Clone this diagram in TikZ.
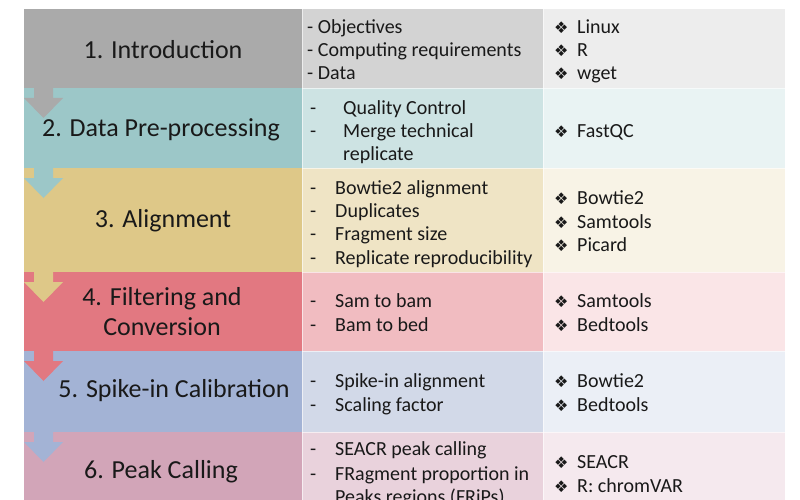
\documentclass[tikz,border=0pt]{standalone}
\usepackage{fontspec}
\setmainfont{Carlito}
\newfontfamily\symfont{DejaVu Sans}
\definecolor{ra}{RGB}{170,170,170}\definecolor{rb}{RGB}{211,211,211}\definecolor{rc}{RGB}{237,237,237}
\definecolor{sa}{RGB}{156,199,200}\definecolor{sb}{RGB}{205,227,227}\definecolor{sc}{RGB}{233,243,243}
\definecolor{ta}{RGB}{222,200,136}\definecolor{tb}{RGB}{239,228,197}\definecolor{tc}{RGB}{248,243,230}
\definecolor{ua}{RGB}{226,120,129}\definecolor{ub}{RGB}{241,188,193}\definecolor{uc}{RGB}{250,229,231}
\definecolor{va}{RGB}{163,179,213}\definecolor{vb}{RGB}{210,217,232}\definecolor{vc}{RGB}{235,239,246}
\definecolor{wa}{RGB}{210,165,184}\definecolor{wb}{RGB}{233,210,220}\definecolor{wc}{RGB}{245,233,238}
\newcommand{\tbul}{\makebox[23pt][l]{\symfont\fontsize{16}{16}\selectfont ❖}}
\begin{document}
\begin{tikzpicture}[x=1pt,y=-1pt,
  head/.style={font=\fontsize{26}{30}\selectfont, align=center, inner sep=0, text=black!90},
  item/.style={font=\fontsize{20}{23.5}\selectfont, anchor=base west, inner sep=0, text=black!90},
  sep/.style={white, line width=0.8pt, opacity=0.6}]
\useasboundingbox (0,0) rectangle (800,500);
\clip (0,0) rectangle (800,500);
% backgrounds
\fill[ra] (24,9) rectangle (302,88);  \fill[rb] (302,9) rectangle (543,88);  \fill[rc] (543,9) rectangle (785,88);
\fill[sa] (24,88) rectangle (302,168); \fill[sb] (302,88) rectangle (543,168); \fill[sc] (543,88) rectangle (785,168);
\fill[ta] (24,168) rectangle (302,272); \fill[tb] (302,168) rectangle (543,272); \fill[tc] (543,168) rectangle (785,272);
\fill[ua] (24,272) rectangle (302,351); \fill[ub] (302,272) rectangle (543,351); \fill[uc] (543,272) rectangle (785,351);
\fill[va] (24,351) rectangle (302,432); \fill[vb] (302,351) rectangle (543,432); \fill[vc] (543,351) rectangle (785,432);
\fill[wa] (24,432) rectangle (302,520); \fill[wb] (302,432) rectangle (543,520); \fill[wc] (543,432) rectangle (785,520);
% separators
\foreach \yy in {88,168,272,351,432} \draw[sep] (302,\yy) -- (785,\yy);
\draw[sep] (302,9) -- (302,520);
\draw[sep] (543,9) -- (543,520);
% arrows
\foreach \b/\c in {88/ra,168/sa,272/ta,351/ua,432/va}
  \fill[\c] (34,\b) -- (53,\b) -- (53,\b+10) -- (63,\b+10) -- (43.5,\b+30) -- (24,\b+10) -- (34,\b+10) -- cycle;
% headings
\node[head] (h1) at (163,50) {1. Introduction};
\node[head] (h2) at (161,130) {2. Data Pre-processing};
\node[head] (h3) at (163,221) {3. Alignment};
\node[head] (h4) at (162,312) {4. Filtering and\\Conversion};
\node[head] (h5) at (174,391) {5. Spike-in Calibration};
\node[head] (h6) at (161,472) {6. Peak Calling};
% row 1
\node[item] (a1) at (307,34) {- Objectives};
\node[item] (a2) at (307,57) {- Computing requirements};
\node[item] (a3) at (307,80) {- Data};
\node[item] (at1) at (554,34) {\tbul Linux};
\node[item] (at2) at (554,57) {\tbul R};
\node[item] (at3) at (554,80) {\tbul wget};
% row 2
\node[item] (b1d) at (310,114) {-};
\node[item] (b1) at (343,114) {Quality Control};
\node[item] (b2d) at (310,137) {-};
\node[item] (b2) at (343,137) {Merge technical};
\node[item] (b3) at (343,160) {replicate};
\node[item] (bt1) at (554,137) {\tbul FastQC};
% row 3
\node[item] (c1d) at (310,194) {-};
\node[item] (c1) at (335,194) {Bowtie2 alignment};
\node[item] (c2d) at (310,217) {-};
\node[item] (c2) at (335,217) {Duplicates};
\node[item] (c3d) at (310,240) {-};
\node[item] (c3) at (335,240) {Fragment size};
\node[item] (c4d) at (310,264) {-};
\node[item] (c4) at (335,264) {Replicate reproducibility};
\node[item] (ct1) at (554,204) {\tbul Bowtie2};
\node[item] (ct2) at (554,228) {\tbul Samtools};
\node[item] (ct3) at (554,251) {\tbul Picard};
% row 4
\node[item] (d1d) at (310,307) {-};
\node[item] (d1) at (335,307) {Sam to bam};
\node[item] (d2d) at (310,331) {-};
\node[item] (d2) at (335,331) {Bam to bed};
\node[item] (dt1) at (554,307) {\tbul Samtools};
\node[item] (dt2) at (554,331) {\tbul Bedtools};
% row 5
\node[item] (e1d) at (310,387) {-};
\node[item] (e1) at (335,387) {Spike-in alignment};
\node[item] (e2d) at (310,411) {-};
\node[item] (e2) at (335,411) {Scaling factor};
\node[item] (et1) at (554,387) {\tbul Bowtie2};
\node[item] (et2) at (554,411) {\tbul Bedtools};
% row 6
\node[item] (f1d) at (310,455) {-};
\node[item] (f1) at (335,455) {SEACR peak calling};
\node[item] (f2d) at (310,480) {-};
\node[item] (f2) at (335,480) {FRagment proportion in};
\node[item] (f3) at (335,503) {Peaks regions (FRiPs)};
\node[item] (ft1) at (554,468) {\tbul SEACR};
\node[item] (ft2) at (554,492) {\tbul R: chromVAR};
\end{tikzpicture}
\end{document}
